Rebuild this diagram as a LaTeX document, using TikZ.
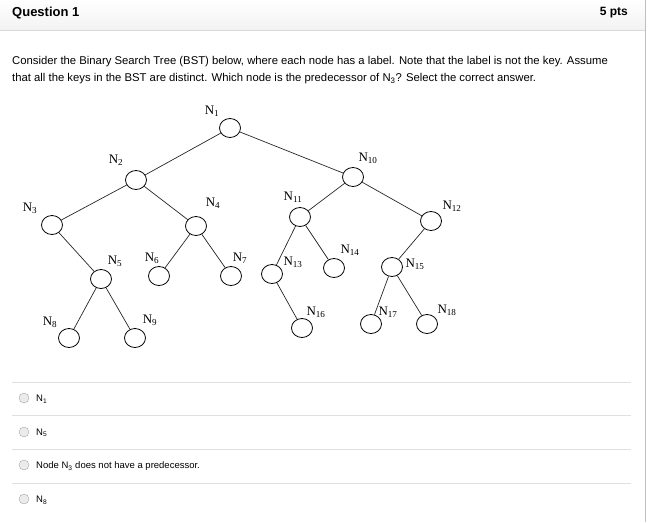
\documentclass[tikz,border=0pt]{standalone}
\usepackage{fontspec}
\usetikzlibrary{shapes.geometric}
\setmainfont{Liberation Sans}
\newfontfamily\serif{Liberation Serif}
\begin{document}
\begin{tikzpicture}[x=1pt,y=-1pt,
  bn/.style={draw,ellipse,minimum width=21pt,minimum height=19pt,inner sep=0pt,line width=0.8pt},
  lb/.style={font=\serif\fontsize{13}{13}\selectfont,inner sep=0pt},
  ed/.style={line width=0.7pt,draw=black!85},
  sep/.style={draw=black!12,line width=0.8pt},
  radio/.style={draw=black!35,fill=black!8,circle,minimum size=10pt,inner sep=0pt},
  txt/.style={font=\fontsize{11.3}{17}\selectfont,anchor=west,inner sep=0pt}]
\useasboundingbox (0,0) rectangle (652,522);
\shade[top color=white,bottom color=black!5] (0,0) rectangle (645,30);
\draw[black!15,line width=0.8pt] (0,30) -- (645,30);
\draw[black!25,line width=0.8pt] (645,0) -- (645,522);
\node[txt,font=\bfseries\fontsize{13}{14}\selectfont] (q) at (12,13) {Question 1};
\node[txt,font=\bfseries\fontsize{12}{14}\selectfont,anchor=east] (p) at (628,13) {5 pts};
\node[txt,anchor=north west,align=left] (body) at (12,56) {Consider the Binary Search Tree (BST) below, where each node has a label. Note that the label is not the key. Assume\\that all the keys in the BST are distinct. Which node is the predecessor of N\textsubscript{3}? Select the correct answer.};
% nodes
\foreach \n/\x/\y in {1/230/128,2/136/180,3/52/225,4/196/226,5/101/279,6/159/276,7/231/276,8/69/338,9/135/338,10/353/177,11/300/217,12/431/221,13/272/274,14/334/268,15/392/267,16/302/328,17/371/324,18/427/324}
  \node[bn] (n\n) at (\x,\y) {};
\foreach \n/\x/\y in {1/212/111,2/116/160,3/30/208,4/213/203,5/115/261,6/152/258,7/240/258,8/50/322,9/150/320,10/368/158,11/293/197,12/452/206,13/293/262,14/350/250,15/415/264,16/316/312,17/388/312,18/447/310}
  \node[lb] (l\n) at (\x,\y) {N\textsubscript{\n}};
\foreach \a/\b in {1/2,1/10,2/3,2/4,3/5,4/6,4/7,5/8,5/9,10/11,10/12,11/13,11/14,13/16,12/15,15/17,15/18}
  \draw[ed] (n\a) -- (n\b);
% options
\foreach \y in {382,415,449,483} \draw[sep] (12,\y) -- (631,\y);
\node[radio] (r1) at (24,398) {};
\node[radio] (r2) at (24,432) {};
\node[radio] (r3) at (24,465) {};
\node[radio] (r4) at (24,499) {};
\node[txt,font=\fontsize{9.5}{12}\selectfont] (o1) at (36,399) {N\textsubscript{1}};
\node[txt,font=\fontsize{9.5}{12}\selectfont] (o2) at (36,433) {N\textsubscript{5}};
\node[txt,font=\fontsize{9.5}{12}\selectfont] (o3) at (36,466) {Node N\textsubscript{3} does not have a predecessor.};
\node[txt,font=\fontsize{9.5}{12}\selectfont] (o4) at (36,500) {N\textsubscript{8}};
\end{tikzpicture}
\end{document}
